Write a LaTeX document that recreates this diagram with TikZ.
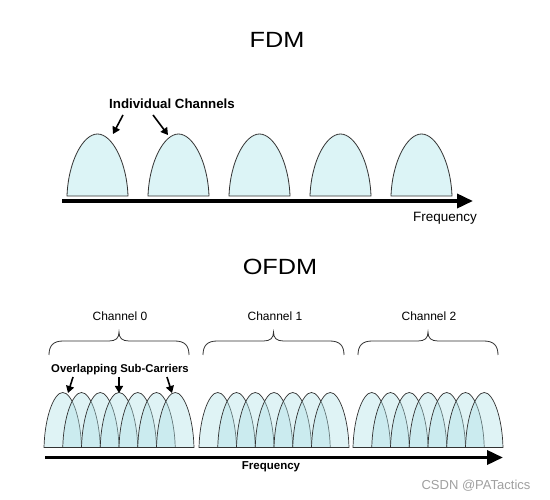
\documentclass[tikz,border=0pt]{standalone}
\usepackage{fontspec}
\setmainfont{Liberation Sans}
\usetikzlibrary{arrows.meta}
\definecolor{humpfill}{RGB}{220,244,246}
\definecolor{subfill}{RGB}{175,225,230}
\definecolor{edge}{RGB}{50,50,50}
\definecolor{wm}{RGB}{160,160,160}
\tikzset{
  pics/hump/.style n args={2}{code={
    \path[pic actions] (0,0) .. controls ({0.02*#1},{-0.55*#2}) and ({0.26*#1},{-#2}) .. ({0.5*#1},{-#2})
      .. controls ({0.74*#1},{-#2}) and ({0.98*#1},{-0.55*#2}) .. (#1,0) -- cycle;
  }},
  pics/cbrace/.style={code={
    \path[pic actions] (0,0) .. controls (0,-9) and (4,-14) .. (14,-14) -- ({#1/2-10},-14)
      .. controls ({#1/2-3},-14) and ({#1/2},-17) .. ({#1/2},-23)
      .. controls ({#1/2},-17) and ({#1/2+3},-14) .. ({#1/2+10},-14) -- ({#1-14},-14)
      .. controls ({#1-4},-14) and (#1,-9) .. (#1,0);
  }},
  fdmhump/.style={draw=edge, line width=0.8pt, fill=humpfill},
  subhump/.style={draw=edge, line width=0.7pt, fill=subfill, fill opacity=0.4},
  bracestyle/.style={draw=edge, line width=0.8pt},
  axis/.style={line width=3.6pt, -{Triangle[length=16pt,width=14pt]}},
  labarrow/.style={line width=1.6pt, -{Triangle[length=7pt,width=8pt]}},
  title/.style={font=\fontsize{22}{26}\selectfont, anchor=base, xscale=1.15},
  boldlab/.style={font=\bfseries, anchor=base},
  plainlab/.style={anchor=base},
}
\begin{document}
\begin{tikzpicture}[x=1pt,y=-1pt]
\useasboundingbox[fill=white] (0,0) rectangle (550,500);

% ---------- FDM ----------
\node[title] (fdm) at (277,48) {FDM};
\foreach \i in {0,...,4}
  \pic[fdmhump] at ({67+81*\i},196) {hump={61}{62}};
\coordinate (ax1s) at (62,201);
\coordinate (ax1e) at (473,201);
\draw[axis] (ax1s) -- (ax1e);
\node[plainlab, font=\fontsize{13.5}{16}\selectfont] (freq1) at (445,222) {Frequency};
\node[boldlab, font=\bfseries\fontsize{13.3}{16}\selectfont] (indiv) at (172,108.5) {Individual Channels};
\coordinate (ia1s) at (123,115); \coordinate (ia1e) at (113,134);
\coordinate (ia2s) at (153,115); \coordinate (ia2e) at (168,135);
\draw[labarrow] (ia1s) -- (ia1e);
\draw[labarrow] (ia2s) -- (ia2e);

% ---------- OFDM ----------
\node[title] (ofdm) at (280,275) {OFDM};
\foreach \c in {44,199,353}
  \foreach \k in {0,...,6}
    \pic[subhump] at ({\c+18.75*\k},447.5) {hump={37.5}{55}};
\pic[bracestyle] at (49,355) {cbrace=140};
\pic[bracestyle] at (203,355) {cbrace=141};
\pic[bracestyle] at (358,355) {cbrace=140};
\node[plainlab, font=\fontsize{12}{14}\selectfont] (ch0) at (120,320.7) {Channel 0};
\node[plainlab, font=\fontsize{12}{14}\selectfont] (ch1) at (275,320.7) {Channel 1};
\node[plainlab, font=\fontsize{12}{14}\selectfont] (ch2) at (429,320.7) {Channel 2};
\node[boldlab, font=\bfseries\fontsize{11.3}{14}\selectfont] (overl) at (120,373) {Overlapping Sub-Carriers};
\coordinate (oa1s) at (73,377); \coordinate (oa1e) at (68,393);
\coordinate (oa2s) at (119,377); \coordinate (oa2e) at (119,393);
\coordinate (oa3s) at (167,377); \coordinate (oa3e) at (172,393);
\draw[labarrow] (oa1s) -- (oa1e);
\draw[labarrow] (oa2s) -- (oa2e);
\draw[labarrow] (oa3s) -- (oa3e);
\coordinate (ax2s) at (45,457.5);
\coordinate (ax2e) at (503,457.5);
\draw[axis] (ax2s) -- (ax2e);
\node[boldlab, font=\bfseries\fontsize{11.5}{14}\selectfont] (freq2) at (271,470) {Frequency};
\node[plainlab, text=wm, font=\fontsize{13}{16}\selectfont] (wmark) at (476,489.3) {CSDN @PATactics};
\end{tikzpicture}
\end{document}
